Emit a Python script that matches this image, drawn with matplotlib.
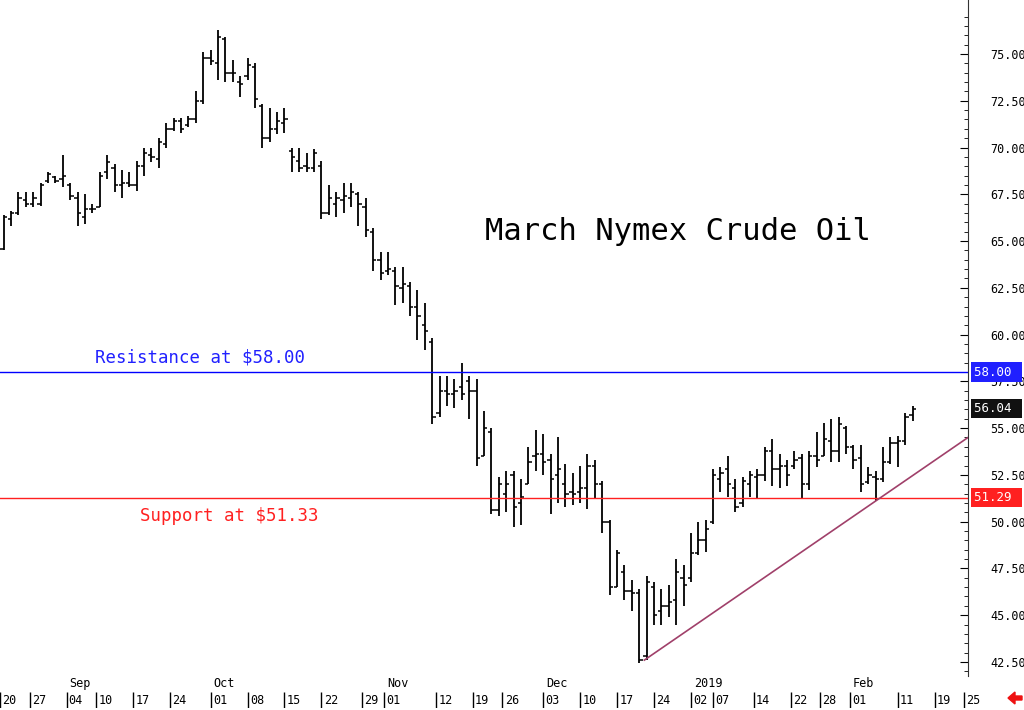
import matplotlib.pyplot as plt
import numpy as np

# daily bars (trading day index 0..123)
highs = [66.4, 66.6, 67.6, 67.6, 67.6, 68.1, 68.7, 68.5, 69.6, 68.1,
         67.6, 67.5, 67.0, 68.7, 69.6, 69.1, 68.8, 68.7, 69.3, 70.0,
         70.0, 70.5, 71.3, 71.6, 71.6, 71.7, 73.0, 75.1, 75.2, 76.3,
         75.9, 74.7, 73.8, 74.8, 74.5, 72.3, 72.1, 71.9, 72.1, 70.0,
         70.0, 69.7, 69.9, 69.3, 68.0, 67.6, 68.1, 68.1, 67.6, 67.3,
         65.7, 64.4, 64.4, 63.6, 63.6, 62.8, 62.4, 61.7, 59.8, 57.8,
         57.8, 57.6, 58.5, 57.8, 57.6, 55.9, 55.0, 52.4, 52.7, 52.7,
         52.3, 54.0, 54.9, 54.7, 53.6, 54.5, 53.1, 52.6, 53.0, 53.6,
         53.3, 52.2, 50.1, 48.5, 47.7, 46.9, 46.4, 47.1, 46.8, 46.4,
         46.6, 48.0, 47.7, 49.4, 50.0, 50.1, 52.8, 52.9, 53.5, 52.3,
         52.4, 52.7, 52.8, 54.0, 54.4, 53.6, 53.3, 53.8, 53.6, 53.8,
         54.8, 55.3, 55.5, 55.6, 55.1, 54.1, 54.1, 52.9, 52.7, 54.0,
         54.5, 54.6, 55.8, 56.2]
lows = [64.5, 65.8, 66.4, 66.8, 66.8, 66.9, 68.1, 68.1, 67.9, 67.2,
        65.8, 65.9, 66.5, 66.8, 68.3, 67.6, 67.3, 67.9, 67.7, 68.5,
        69.2, 68.9, 70.0, 70.9, 70.8, 71.1, 71.3, 72.3, 74.4, 73.6,
        73.5, 73.5, 72.7, 73.6, 72.1, 70.0, 70.3, 70.7, 70.8, 68.7,
        68.7, 68.7, 68.7, 66.2, 66.4, 66.3, 66.5, 66.8, 65.8, 65.2,
        63.4, 62.9, 63.2, 61.6, 61.7, 61.0, 59.7, 59.2, 55.2, 55.6,
        56.2, 56.1, 56.5, 55.5, 53.0, 53.5, 50.4, 50.3, 50.5, 49.7,
        49.8, 52.0, 52.7, 52.5, 50.4, 51.0, 50.8, 50.9, 51.0, 50.7,
        51.2, 49.4, 46.1, 46.5, 45.8, 45.2, 42.45, 42.6, 44.5, 44.5,
        44.9, 44.5, 45.5, 46.8, 48.2, 48.4, 49.9, 51.6, 51.3, 50.5,
        50.8, 51.3, 51.2, 52.2, 51.9, 51.8, 51.9, 52.8, 51.2, 51.7,
        52.9, 53.5, 53.2, 53.2, 53.6, 52.8, 51.6, 52.0, 51.1, 52.1,
        53.1, 52.9, 54.1, 55.4]
opens = [64.6, 66.2, 66.5, 67.2, 67.0, 67.0, 68.2, 68.4, 68.3, 68.0,
         67.3, 66.3, 66.7, 66.8, 68.7, 68.9, 68.0, 68.1, 68.0, 69.0,
         69.6, 69.4, 70.2, 71.0, 71.4, 71.2, 71.5, 72.5, 74.8, 74.5,
         75.8, 74.0, 73.5, 73.8, 74.3, 72.2, 70.5, 71.0, 71.3, 69.8,
         69.3, 69.0, 68.9, 69.0, 66.5, 67.0, 67.2, 67.3, 67.5, 66.8,
         65.5, 64.0, 63.4, 63.4, 62.5, 62.6, 61.5, 60.5, 59.6, 55.8,
         57.0, 56.8, 57.2, 57.5, 57.0, 53.5, 54.8, 50.6, 51.5, 52.5,
         51.0, 52.0, 53.5, 53.6, 53.3, 52.5, 52.0, 51.6, 51.6, 51.8,
         53.0, 52.0, 50.0, 46.5, 47.3, 46.3, 46.2, 42.8, 46.5, 45.2,
         45.5, 45.8, 47.0, 47.0, 48.3, 49.0, 50.0, 52.3, 52.8, 51.8,
         51.0, 52.0, 52.4, 52.5, 53.8, 52.8, 53.0, 53.0, 53.4, 52.0,
         53.5, 53.5, 54.3, 53.8, 55.0, 54.0, 53.4, 52.1, 52.4, 52.3,
         53.2, 54.2, 54.3, 55.7]
closes = [66.3, 66.5, 67.3, 67.0, 67.3, 68.0, 68.6, 68.2, 68.5, 67.4,
          66.5, 66.7, 66.7, 68.5, 69.2, 68.0, 68.1, 68.0, 69.0, 69.7,
          69.5, 70.3, 71.0, 71.4, 71.0, 71.5, 72.5, 74.8, 74.6, 75.9,
          74.0, 74.0, 73.4, 74.4, 72.6, 70.5, 71.0, 71.4, 71.5, 69.5,
          68.9, 68.9, 69.7, 66.5, 67.3, 67.3, 67.4, 67.6, 67.0, 65.6,
          64.0, 63.3, 63.5, 62.6, 62.7, 61.5, 61.0, 60.2, 55.6, 57.0,
          56.8, 57.0, 56.8, 57.0, 53.4, 55.0, 50.6, 52.0, 52.0, 50.8,
          51.3, 53.2, 53.6, 53.2, 52.3, 52.8, 51.5, 51.5, 51.8, 53.0,
          52.0, 50.0, 46.5, 48.3, 46.3, 46.2, 42.6, 46.8, 45.0, 45.5,
          45.7, 47.3, 46.6, 48.3, 49.0, 49.6, 52.5, 52.6, 52.0, 50.8,
          52.2, 52.5, 52.5, 53.8, 52.8, 53.0, 52.5, 53.3, 52.0, 53.5,
          53.3, 54.4, 53.8, 55.2, 54.0, 53.3, 52.0, 52.5, 52.3, 53.2,
          54.2, 54.3, 55.6, 56.04]

tick_pos = [-0.5, 3.5, 8.5, 12.5, 17.5, 22.5, 28, 33, 38, 43, 48.5, 51.5,
            58.5, 63.5, 67.5, 73, 78, 83, 88, 93, 96, 101.5, 106.5, 110.5,
            114.5, 121, 126, 130]
tick_lab = ["20", "27", "04", "10", "17", "24", "01", "08", "15", "22", "29",
            "01", "12", "19", "26", "03", "10", "17", "24", "02", "07", "14",
            "22", "28", "01", "11", "19", "25"]
month_pos = [8.5, 28, 51.5, 73, 93, 114.5]
month_lab = ["Sep", "Oct", "Nov", "Dec", "2019", "Feb"]

resistance = 58.00
support = 51.29
last = 56.04
trend_x = [86.7, 130.5]
trend_y = [42.6, 54.5]

mono = "DejaVu Sans Mono"
W, H = 1024, 710
fig = plt.figure(figsize=(W / 100, H / 100), dpi=100)
ax = fig.add_axes([0, 1 - 676 / H, 968 / W, 676 / H])
x = np.arange(len(highs))
ax.vlines(x, lows, highs, color="black", lw=1.3)
ax.hlines(opens, x - 0.45, x, color="black", lw=1.1)
ax.hlines(closes, x, x + 0.45, color="black", lw=1.1)

ax.axhline(resistance, color="#0000ff", lw=1)
ax.axhline(support, color="#ff2020", lw=1)
ax.plot(trend_x, trend_y, color="#a0406a", lw=1.2)

ax.set_xlim(-0.5, 130.5)
ax.set_ylim(41.75, 77.886)
ax.set_xticks([])
for s in ["left", "top", "bottom"]:
    ax.spines[s].set_visible(False)
ax.spines["right"].set_color("#333333")
ax.yaxis.tick_right()
ax.set_yticks(np.arange(42.5, 76, 2.5))
ax.set_yticks(np.arange(42.0, 77.5, 0.5), minor=True)
ax.set_yticklabels([f"{v:.2f}" for v in np.arange(42.5, 76, 2.5)],
                   family=mono, fontsize=8.5)
ax.tick_params(axis="y", which="major", direction="in", length=6, pad=16)
ax.tick_params(axis="y", which="minor", direction="in", length=3)

ax.text(65.2, 65.5, "March Nymex Crude Oil", family=mono, fontsize=22,
        va="center", ha="left")
ax.text(12.3, 58.75, "Resistance at $58.00", family=mono, fontsize=12.5,
        color="#2020ff", va="center")
ax.text(18.5, 50.3, "Support at $51.33", family=mono, fontsize=12.5,
        color="#ff2020", va="center")

for val, bg in [(resistance, "#2020ff"), (support, "#ff2020"), (last, "#111111")]:
    ax.text(1.006, val, f"{val:.2f} ", transform=ax.get_yaxis_transform(),
            family=mono, fontsize=9, color="white", va="center", ha="left",
            bbox=dict(boxstyle="square,pad=0.25", fc=bg, ec="none"),
            clip_on=False)

# date strip
dx = fig.add_axes([0, 1 - 708 / H, 968 / W, 32 / H])
dx.set_xlim(-0.5, 130.5)
dx.set_ylim(0, 1)
dx.axis("off")
dx.vlines(tick_pos, 0, 0.5, color="black", lw=1)
for p, t in zip(tick_pos, tick_lab):
    dx.text(p + 0.3, 0.25, t, family=mono, fontsize=8.5, va="center", ha="left")
for p, t in zip(month_pos, month_lab):
    dx.text(p + 0.4, 0.78, t, family=mono, fontsize=8.5, va="center", ha="left")

fig.patches.append(plt.Polygon([[1008 / W, 1 - 698 / H], [1015 / W, 1 - 692 / H],
                                [1015 / W, 1 - 696 / H], [1022 / W, 1 - 696 / H],
                                [1022 / W, 1 - 700 / H], [1015 / W, 1 - 700 / H],
                                [1015 / W, 1 - 704 / H]], closed=True,
                               transform=fig.transFigure, color="#ee1111"))

fig.savefig("out.png", dpi=100)
